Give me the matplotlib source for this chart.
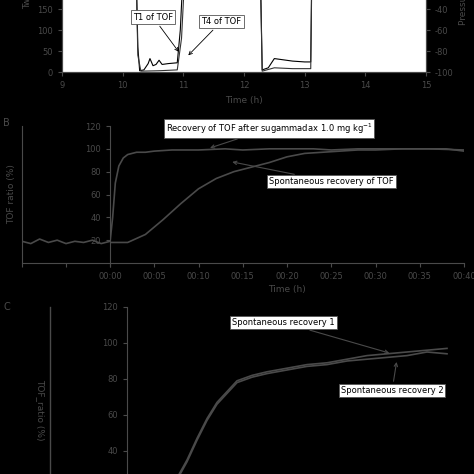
import matplotlib
matplotlib.use("Agg")
import matplotlib.pyplot as plt
import numpy as np

W = 474.0
G = "#4a4a4a"  # dark grey for axes/text on black

# Panel A data (time h, twitch)
a_t1_x = [9.0, 10.2, 10.25, 10.28, 10.35, 10.42, 10.45, 10.5, 10.55, 10.6, 10.65, 10.75, 10.9, 10.95, 11.0, 11.05,
          12.2, 12.25, 12.3, 12.4, 12.5, 12.6, 12.8, 13.0, 13.1, 13.13]
a_t1_y = [400, 400, 60, 3, 5, 20, 32, 15, 18, 28, 18, 20, 22, 100, 250, 400,
          400, 400, 5, 10, 32, 30, 26, 24, 24, 400]
a_t4_x = [9.0, 10.2, 10.25, 10.3, 10.6, 10.9, 10.97, 11.03, 11.1,
          12.2, 12.25, 12.3, 12.5, 12.8, 13.1, 13.13]
a_t4_y = [380, 380, 40, 2, 3, 5, 80, 250, 380,
          380, 380, 2, 10, 8, 8, 380]

# Panel B data (min, TOF ratio %)
b_pre_x = [-10, -9, -8, -7, -6, -5, -4, -3, -2, -1, 0]
b_pre_y = [19, 17, 21, 18, 20, 17, 19, 18, 20, 17, 19]
b_sug_x = [0, 0.3, 0.6, 1.0, 1.5, 2, 3, 4, 5, 7, 10, 13, 15, 18, 20, 23, 25, 28, 30, 33, 35, 38, 40]
b_sug_y = [18, 40, 70, 85, 92, 95, 97, 97, 98, 99, 99, 100, 99, 100, 100, 100, 99, 100, 100, 100, 100, 100, 98]
b_spo_x = [0, 2, 4, 6, 8, 10, 12, 14, 16, 18, 20, 22, 24, 26, 28, 30, 33, 36, 40]
b_spo_y = [18, 18, 25, 38, 52, 65, 74, 80, 84, 88, 93, 96, 97, 98, 99, 99, 100, 100, 99]

# Panel C data
c1_x = [5.0, 6.0, 7.0, 8.0, 9.0, 10.0, 11.0, 12.5, 14, 16, 18, 20, 22, 24, 26, 28, 30, 32]
c1_y = [25, 35, 47, 58, 67, 73, 79, 82, 84, 86, 88, 89, 91, 93, 94, 95, 96, 97]
c2_x = [5.0, 6.0, 7.0, 8.0, 9.0, 10.0, 11.0, 12.5, 14, 16, 18, 20, 22, 24, 26, 28, 30, 32]
c2_y = [24, 34, 46, 57, 66, 72, 78, 81, 83, 85, 87, 88, 90, 91, 92, 93, 95, 94]

fig = plt.figure(figsize=(4.74, 4.74), dpi=100, facecolor="black")

def ax_at(x0, y0, x1, y1, **kw):
    return fig.add_axes([x0 / W, 1 - y1 / W, (x1 - x0) / W, (y1 - y0) / W], **kw)

def style(ax):
    for s in ax.spines.values():
        s.set_color(G)
    ax.tick_params(colors=G, labelcolor=G, labelsize=6, length=3)

# ---------- Panel A ----------
axA = ax_at(62, -100, 426, 72, facecolor="white")
style(axA)
axA.plot(a_t1_x, a_t1_y, color="black", lw=0.8)
axA.plot(a_t4_x, a_t4_y, color="#333333", lw=0.8)
axA.set_xlim(9, 15)
axA.set_ylim(0, 410)
axA.set_yticks([0, 50, 100, 150, 200])
axA.set_xticks(range(9, 16))
axA.set_xlabel("Time (h)", color=G, fontsize=6.5, labelpad=4)
axA.set_ylabel("Twitch (%)", color=G, fontsize=6.5)
axA.spines["top"].set_visible(False)
axA.annotate("T1 of TOF", xy=(10.95, 43), xytext=(10.17, 125), fontsize=6,
             bbox=dict(boxstyle="square,pad=0.25", fc="white", ec="#555555", lw=0.6),
             arrowprops=dict(arrowstyle="->", lw=0.6, color="black"))
axA.annotate("T4 of TOF", xy=(11.05, 35), xytext=(11.3, 115), fontsize=6,
             bbox=dict(boxstyle="square,pad=0.25", fc="white", ec="#555555", lw=0.6),
             arrowprops=dict(arrowstyle="->", lw=0.6, color="black"))
axA2 = axA.twinx()
style(axA2)
axA2.spines["top"].set_visible(False)
axA2.set_ylim(-100, 310)
axA2.set_yticks([-100, -50, 0, 50])
axA2.set_yticklabels(["-100", "-80", "-60", "-40"])
axA2.set_ylabel("Pressure (mmHg)", color=G, fontsize=6.5)

# ---------- Panel B ----------
axBl = ax_at(22, 126, 110, 263, facecolor="black")
style(axBl)
axBl.plot(b_pre_x, b_pre_y, color=G, lw=1.2)
axBl.set_xlim(-10, 0)
axBl.set_ylim(0, 120)
axBl.set_yticks([])
axBl.set_xticks([-10, -5, 0])
axBl.set_xticklabels(["", "", ""])
axBl.spines["top"].set_visible(False)
axBl.spines["right"].set_visible(False)
axBl.set_ylabel("TOF ratio (%)", color=G, fontsize=6.5)

axB = ax_at(110, 126, 464, 263, facecolor="none")
style(axB)
axB.plot(b_sug_x, b_sug_y, color=G, lw=1.2)
axB.plot(b_spo_x, b_spo_y, color=G, lw=1.2)
axB.set_xlim(0, 40)
axB.set_ylim(0, 120)
axB.set_yticks([20, 40, 60, 80, 100, 120])
axB.set_yticklabels(["20", "40", "60", "80", "100", "120"])
axB.set_xticks(range(0, 41, 5))
axB.set_xticklabels(["00:%02d" % m for m in range(0, 41, 5)])
axB.spines["top"].set_visible(False)
axB.spines["right"].set_visible(False)
axB.set_xlabel("Time (h)", color=G, fontsize=6.5, labelpad=3)
axB.annotate("Recovery of TOF after sugammadax 1.0 mg kg$^{-1}$", xy=(11, 100), xytext=(6.3, 115),
             fontsize=6, bbox=dict(boxstyle="square,pad=0.25", fc="white", ec="#555555", lw=0.6),
             arrowprops=dict(arrowstyle="->", lw=0.8, color=G))
axB.annotate("Spontaneous recovery of TOF", xy=(13.5, 89), xytext=(18, 69), fontsize=6,
             bbox=dict(boxstyle="square,pad=0.25", fc="white", ec="#555555", lw=0.6),
             arrowprops=dict(arrowstyle="->", lw=0.8, color=G))
fig.text(3 / W, 1 - 123 / W, "B", color=G, fontsize=7, va="center")

# ---------- Panel C ----------
axCl = ax_at(50, 307, 60, 520, facecolor="black")
axCl.axis("off")
fig.add_artist(plt.Line2D([50 / W, 50 / W], [1 - 307 / W, 0], color=G, lw=1))
fig.text(40 / W, 1 - 410 / W, "TOF_ratio (%)", color=G, fontsize=6.5, rotation=270,
         va="center", ha="center")
axC = ax_at(127, 307, 474, 487, facecolor="none")
style(axC)
axC.plot(c1_x, c1_y, color=G, lw=1.2)
axC.plot(c2_x, c2_y, color=G, lw=1.2)
axC.set_xlim(0, 34.7)
axC.set_ylim(20, 120)
axC.set_yticks([40, 60, 80, 100, 120])
axC.set_xticks([])
for s in ["top", "right", "bottom"]:
    axC.spines[s].set_visible(False)
axC.annotate("Spontaneous recovery 1", xy=(26.5, 94), xytext=(10.5, 110), fontsize=6,
             bbox=dict(boxstyle="square,pad=0.25", fc="white", ec="#555555", lw=0.6),
             arrowprops=dict(arrowstyle="->", lw=0.8, color=G))
axC.annotate("Spontaneous recovery 2", xy=(27, 91), xytext=(26.5, 72), fontsize=6,
             bbox=dict(boxstyle="square,pad=0.25", fc="white", ec="#555555", lw=0.6),
             arrowprops=dict(arrowstyle="->", lw=0.8, color=G), ha="center")
fig.text(3 / W, 1 - 307 / W, "C", color=G, fontsize=7, va="center")

fig.savefig("out.png", dpi=100, facecolor="black")
